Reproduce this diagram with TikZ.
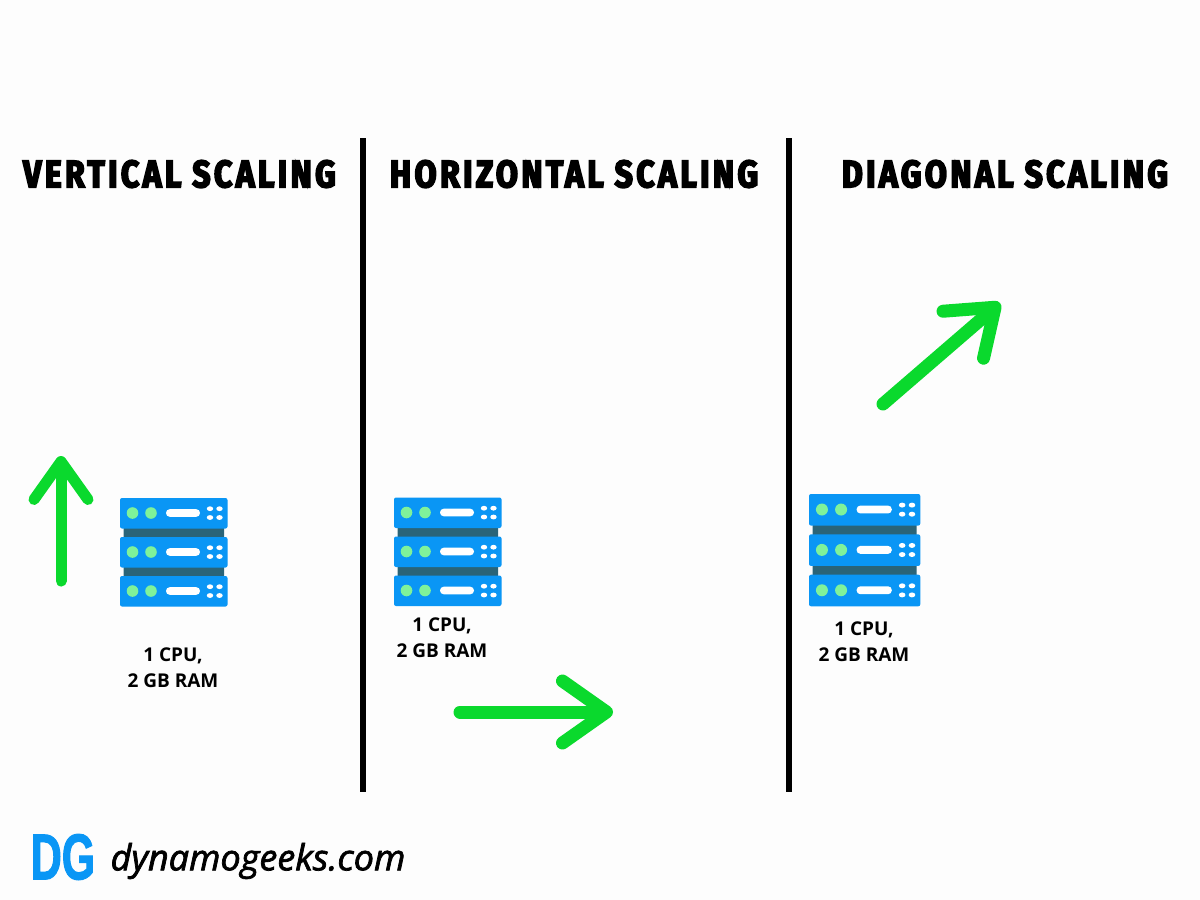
\documentclass[tikz,border=0pt]{standalone}
\usepackage{fontspec}
\usetikzlibrary{arrows.meta}
\newfontfamily\headfont[FakeBold=4.5,LetterSpace=9,FakeStretch=0.84]{Fira Sans Bold}
\newfontfamily\capfont{Open Sans}
\newfontfamily\logofont[FakeStretch=0.66,FakeBold=1.5]{Liberation Sans}
\newfontfamily\sitefont[FakeBold=2]{Open Sans Italic}
\definecolor{pagewhite}{HTML}{FDFDFD}
\definecolor{bladeblue}{HTML}{0A96F5}
\definecolor{banddark}{HTML}{2A6478}
\definecolor{ledgreen}{HTML}{7FF29A}
\definecolor{growgreen}{HTML}{0AD92D}
\tikzset{
    heading/.style={font=\headfont\fontsize{38}{38}\selectfont,inner sep=0pt},
    spec/.style={font=\capfont\bfseries\fontsize{19}{26}\selectfont,align=center,inner sep=0pt},
    divider/.style={line width=6pt},
    growarrow/.style n args={3}{growgreen,line width=#1pt,line cap=round,
        -{Straight Barb[round,length=#2pt,width=#3pt,line width=#1pt]}},
    pics/serverstack/.style={code={
        \fill[banddark] (3.5,30) rectangle (104,40) (3.5,69) rectangle (104,79);
        \foreach \dy in {0,39,78} {
            \fill[bladeblue,rounded corners=2pt] (0,\dy) rectangle (107.5,\dy+30.5);
            \fill[ledgreen] (12.5,\dy+15) circle (5.8) (31,\dy+15) circle (5.8);
            \fill[white,rounded corners=3.7pt] (46,\dy+11.2) rectangle (80,\dy+18.8);
            \foreach \sx in {90,99.5} {
                \fill[white] (\sx,\dy+10.7) ellipse (3.2 and 2.4) (\sx,\dy+19.5) ellipse (3.2 and 2.4);
            }
        }
    }}
}
\begin{document}
\begin{tikzpicture}[x=1pt,y=-1pt]
    \fill[pagewhite,use as bounding box] (0,0) rectangle (1200,900);

    \node[heading] (vertical) at (179.5,174) {VERTICAL SCALING};
    \node[heading] (horizontal) at (574,174) {HORIZONTAL SCALING};
    \node[heading] (diagonal) at (1005,174) {DIAGONAL SCALING};

    \coordinate (div1top) at (362.5,138);
    \coordinate (div1bot) at (362.5,792);
    \coordinate (div2top) at (788.5,138);
    \coordinate (div2bot) at (788.5,792);
    \draw[divider] (div1top) -- (div1bot);
    \draw[divider] (div2top) -- (div2bot);

    \pic at (120,498) {serverstack};
    \pic at (394,497.5) {serverstack};
    \pic[scale=1.035] at (809,494) {serverstack};

    \node[spec] (spec1) at (173,668) {1 CPU,\\2 GB RAM};
    \node[spec] (spec2) at (442,638) {1 CPU,\\2 GB RAM};
    \node[spec] (spec3) at (864,642) {1 CPU,\\2 GB RAM};

    \coordinate (uptail) at (61,581);
    \coordinate (uptip) at (61,456);
    \coordinate (righttail) at (460,712);
    \coordinate (righttip) at (613,712);
    \coordinate (diagtail) at (883,404);
    \coordinate (diagtip) at (1000,303);
    \draw[growarrow={11}{38}{54}] (uptail) -- (uptip);
    \draw[growarrow={13}{44}{62}] (righttail) -- (righttip);
    \draw[growarrow={13}{42}{62}] (diagtail) -- (diagtip);

    \node[inner sep=0pt,text=bladeblue,font=\logofont\bfseries\fontsize{65}{65}\selectfont] (logo) at (63,857) {DG};
    \node[inner sep=0pt,font=\sitefont\fontsize{36}{36}\selectfont] (site) at (258,861) {dynamogeeks.com};
\end{tikzpicture}
\end{document}
